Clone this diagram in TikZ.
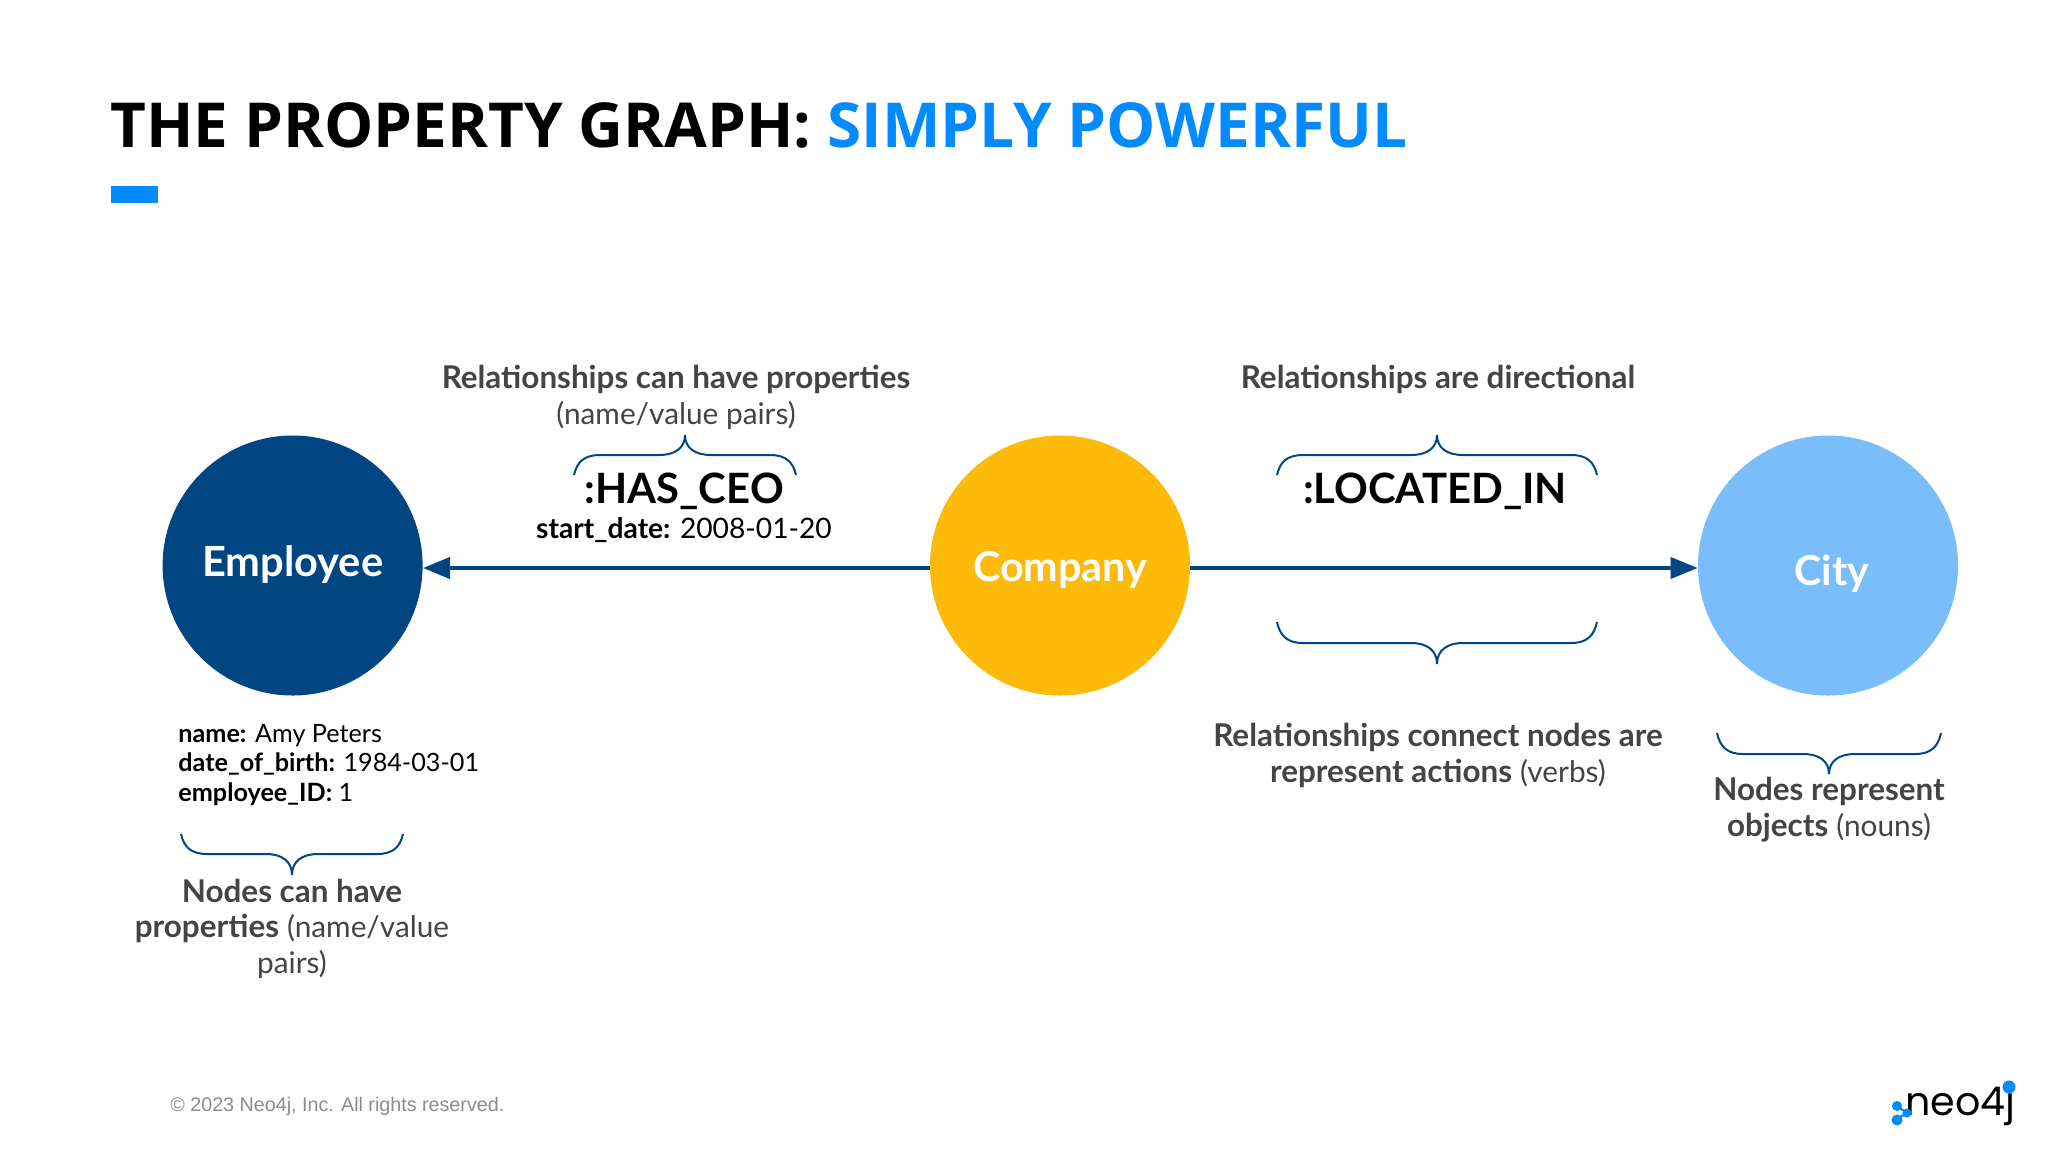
\documentclass[tikz,border=0pt]{standalone}
\usepackage{fontspec}
\setmainfont{Lato}
\newfontfamily\titlefont{Open Sans}
\newfontfamily\footfont{Liberation Sans}
\newfontfamily\logofont{Poppins}
\usetikzlibrary{arrows.meta}
\definecolor{navy}{HTML}{014583}
\definecolor{amber}{HTML}{FDBA08}
\definecolor{sky}{HTML}{79BDFA}
\definecolor{brand}{HTML}{018BFF}
\definecolor{note}{HTML}{444446}
\newcommand{\fsz}[2]{\fontsize{#1pt}{#2pt}\selectfont}
\newcommand{\nreg}[1]{{\fontsize{14.9pt}{17.7pt}\selectfont #1}}
\newcommand{\curly}[6]{% x1, xm, x2, yend, ybar, ytip
  \draw[bracestroke] (#1,#4) .. controls ({#1+3},{#4+(#5-#4)*0.65}) and ({#1+10},#5) .. ({#1+26},#5)
    -- ({#2-26},#5) .. controls ({#2-10},#5) and (#2,{#5+(#6-#5)*0.35}) .. (#2,#6)
    .. controls (#2,{#5+(#6-#5)*0.35}) and ({#2+10},#5) .. ({#2+26},#5)
    -- ({#3-26},#5) .. controls ({#3-10},#5) and ({#3-3},{#4+(#5-#4)*0.65}) .. (#3,#4);}
\tikzset{
  x=0.5pt,y=-0.5pt,
  entity/.style={circle,minimum size=130pt,inner sep=0pt},
  entlabel/.style={inner sep=0pt,anchor=base,text=white,font=\fsz{20.6}{24}\bfseries},
  bracestroke/.style={draw=navy,line width=1pt},
  rel/.style={draw=navy,line width=2pt,-{Triangle[length=13.5pt,width=10.5pt]}},
  note/.style={inner sep=0pt,anchor=base,align=center,text=note,font=\fsz{15.7}{17.7}},
  rtype/.style={inner sep=0pt,anchor=base,text=black,font=\fsz{20.9}{26}\bfseries},
  prop/.style={inner sep=0pt,anchor=base,text=black},
}
\begin{document}
\begin{tikzpicture}
\useasboundingbox (0,0) rectangle (2048,1152);
\fill[white] (0,0) rectangle (2048,1152);
% title
\node[inner sep=0pt,anchor=base west,font=\titlefont\fsz{31}{36}\bfseries] (title) at (110,147)
  {THE PROPERTY GRAPH: \textcolor{brand}{SIMPLY POWERFUL}};
\fill[brand] (111,186) rectangle (158,203);
% entities
\node[entity,fill=navy] (employee) at (292.6,565.5) {};
\node[entity,fill=amber] (company) at (1060,565.5) {};
\node[entity,fill=sky] (city) at (1828,565.5) {};
\node[entlabel,font=\fsz{20.8}{24}\bfseries] (emplabel) at (292.6,576) {Employee};
\node[entlabel] (complabel) at (1060,581) {Company};
\node[entlabel] (citylabel) at (1832,585) {City};
% relationships
\draw[rel] (company.west |- 0,568) -- (employee.east |- 0,568);
\draw[rel] (company.east |- 0,568) -- (city.west |- 0,568);
% braces
\curly{574}{685}{796}{475}{455}{435}
\curly{1277}{1437}{1597}{475}{455}{435}
\curly{1277}{1437}{1597}{622}{643}{664}
\curly{1717}{1829}{1941}{733}{754}{774}
\curly{181}{292}{403}{834}{854}{875}
% relationship notes
\node[note] (n1) at (676,424) {\textbf{Relationships can have properties}\\\nreg{(name/value pairs)}};
\node[note] (n2) at (1438,388) {\textbf{Relationships are directional}};
\node[note] (n3) at (1438,782) {\textbf{Relationships connect nodes are}\\\textbf{represent actions} \nreg{(verbs)}};
\node[note] (n4) at (1829,836) {\textbf{Nodes represent}\\\textbf{objects} \nreg{(nouns)}};
\node[note] (n5) at (292,973) {\textbf{Nodes can have}\\\textbf{properties} \nreg{(name/value}\\\nreg{pairs)}};
% relationship types and properties
\node[rtype] (hasceo) at (684,503) {:HAS\_CEO};
\node[rtype] (located) at (1435,503) {:LOCATED\_IN};
\node[prop,font=\fsz{14.1}{16}] (startdate) at (684,538) {\textbf{start\_date:} 2008-01-20};
\node[prop,font=\fsz{12.6}{14.75},anchor=base west,align=left] (empprops) at (178,801) {\textbf{name:} Amy Peters\\\textbf{date\_of\_birth:} 1984-03-01\\\textbf{employee\_ID:} 1};
% footer
\node[inner sep=0pt,anchor=base west,text=black!45,font=\footfont\fsz{9.85}{13}] (foot) at (170,1111) {© 2023 Neo4j, Inc. All rights reserved.};
% logo
\node[inner sep=0pt,anchor=base west,text=black,font=\logofont\fsz{19.8}{26}] (logo) at (1905,1115) {neo4j};
\fill[brand] (2009,1087) circle (6.5);
\draw[brand,line width=1.2pt] (1897,1106) -- (1907,1113) -- (1897,1119);
\fill[brand] (1897,1106) circle (5) (1907,1113) circle (4.5) (1897,1120) circle (5.5);
\end{tikzpicture}
\end{document}
